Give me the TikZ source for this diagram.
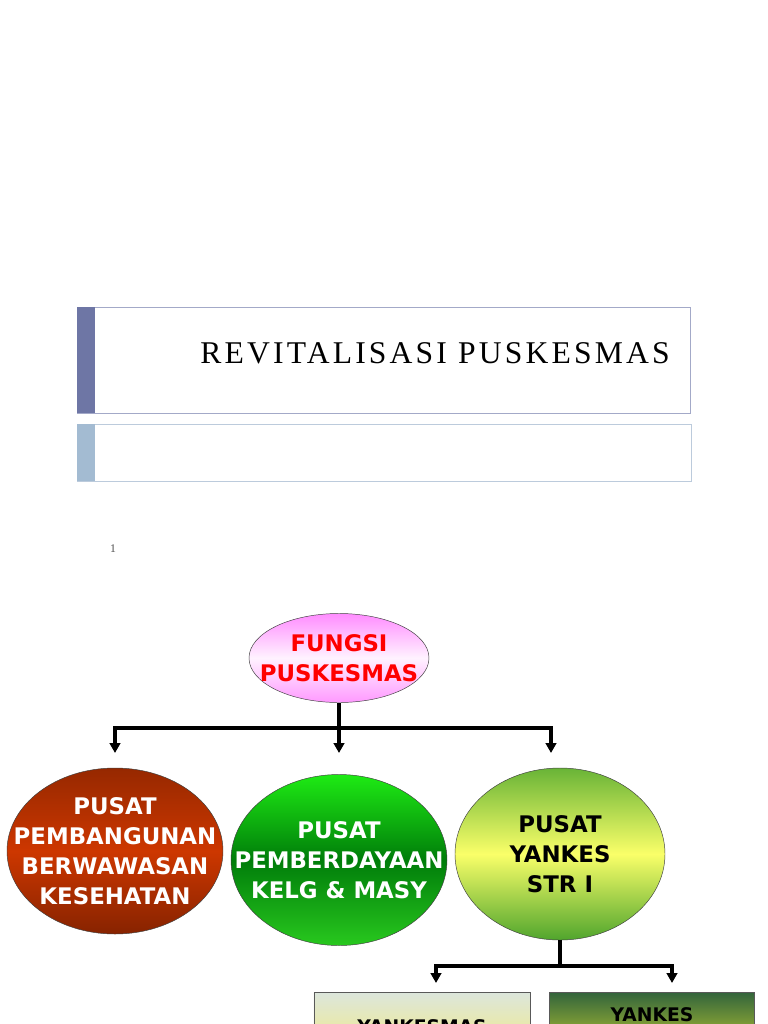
\documentclass[tikz,border=0pt]{standalone}
\usepackage{fontspec}
\setmainfont{Liberation Serif}
\newfontfamily\diagfont{DejaVu Sans}
\newfontfamily\titlefont{Liberation Serif}[LetterSpace=10]
\usetikzlibrary{shapes.geometric}
\usetikzlibrary{arrows.meta}
\usetikzlibrary{calc,positioning}

\definecolor{barDark}{HTML}{6E76A5}
\definecolor{barLight}{HTML}{A3BBD2}
\definecolor{frameLine}{HTML}{A3A9C8}
\definecolor{frameLight}{HTML}{BCCBDC}

\begin{document}
\begin{tikzpicture}[x=0.03cm,y=-0.03cm,>={Triangle[length=8.5pt,width=9pt]},
  bubble/.style={ellipse, draw=black!75, thin, inner sep=0pt},
  bubbletext/.style={font=\diagfont\bfseries\fontsize{19.5}{25.5}\selectfont, align=center},
  boxtext/.style={font=\diagfont\bfseries\fontsize{16}{20}\selectfont, anchor=base},
  cardbox/.style={rectangle, draw=black!65, thin, inner sep=0pt, minimum height=3cm},
  conn/.style={line width=2.8pt}]

\useasboundingbox (0,0) rectangle (768,1024);
\clip (0,0) rectangle (768,1024);

\draw[frameLine] (77,307) rectangle (690,413);
\fill[barDark] (77,307) rectangle (95,413);
\node[font=\titlefont\fontsize{27}{30}\selectfont, anchor=base east, inner sep=0pt] (title) at (670,363) {REVITALISASI PUSKESMAS};
\draw[frameLight] (77,424) rectangle (691,481);
\fill[barLight] (77,424) rectangle (95,481);
\node[font=\fontsize{10}{11}\selectfont, text=black!70, anchor=base, inner sep=0pt] (slideno) at (113,552) {1};

\node[bubble, minimum width=5.4cm, minimum height=2.67cm,
  top color=magenta!45, bottom color=magenta!40, middle color=magenta!5,
  label={[bubbletext, text=red]center:FUNGSI\\PUSKESMAS}] (fungsi) at (339,658) {};

\node[bubble, minimum width=6.48cm, minimum height=4.98cm,
  top color={rgb,255:red,150;green,40;blue,0}, bottom color={rgb,255:red,135;green,35;blue,0},
  middle color={rgb,255:red,205;green,55;blue,0},
  label={[bubbletext, text=white]center:PUSAT\\PEMBANGUNAN\\BERWAWASAN\\KESEHATAN}] (pembangunan) at (115,851) {};
\node[bubble, minimum width=6.48cm, minimum height=5.13cm,
  top color={rgb,255:red,30;green,235;blue,20}, bottom color={rgb,255:red,40;green,200;blue,30},
  middle color={rgb,255:red,0;green,125;blue,10},
  label={[bubbletext, text=white]center:PUSAT\\PEMBERDAYAAN\\KELG \& MASY}] (pemberdayaan) at (339,860) {};
\node[bubble, minimum width=6.3cm, minimum height=5.16cm,
  top color={rgb,255:red,105;green,180;blue,55}, bottom color={rgb,255:red,80;green,165;blue,45},
  middle color={rgb,255:red,250;green,255;blue,105},
  label={[bubbletext, text=black]center:PUSAT\\YANKES\\STR I}] (yankes) at (560,854) {};

\coordinate (bus) at (339,728);
\coordinate (tipA) at (115,753);
\coordinate (tipB) at (339,753);
\coordinate (tipC) at (551,753);
\draw[conn] (fungsi.south) -- (bus);
\draw[conn,->] (bus) -| (tipA);
\draw[conn,->] (bus) -- (tipB);
\draw[conn,->] (bus) -| (tipC);

\node[cardbox, minimum width=6.48cm,
  top color={rgb,255:red,220;green,230;blue,220}, bottom color={rgb,255:red,235;green,232;blue,140},
  middle color={rgb,255:red,238;green,234;blue,150},
  label={[boxtext, yshift=-1.26cm]north:YANKESMAS}] (yankesmas) at (422,1042) {};
\node[cardbox, minimum width=6.15cm,
  top color={rgb,255:red,50;green,100;blue,60}, bottom color={rgb,255:red,200;green,210;blue,60},
  middle color={rgb,255:red,165;green,185;blue,50},
  label={[boxtext, yshift=-0.9cm]north:YANKES}] (yankesperorangan) at (652,1042) {};

\coordinate (bus2) at (yankes.south |- 0,966);
\coordinate (tipD) at (436,983);
\coordinate (tipE) at (672,983);
\draw[conn] (yankes.south) -- (bus2);
\draw[conn,->] (bus2) -| (tipD);
\draw[conn,->] (bus2) -| (tipE);

\end{tikzpicture}
\end{document}
